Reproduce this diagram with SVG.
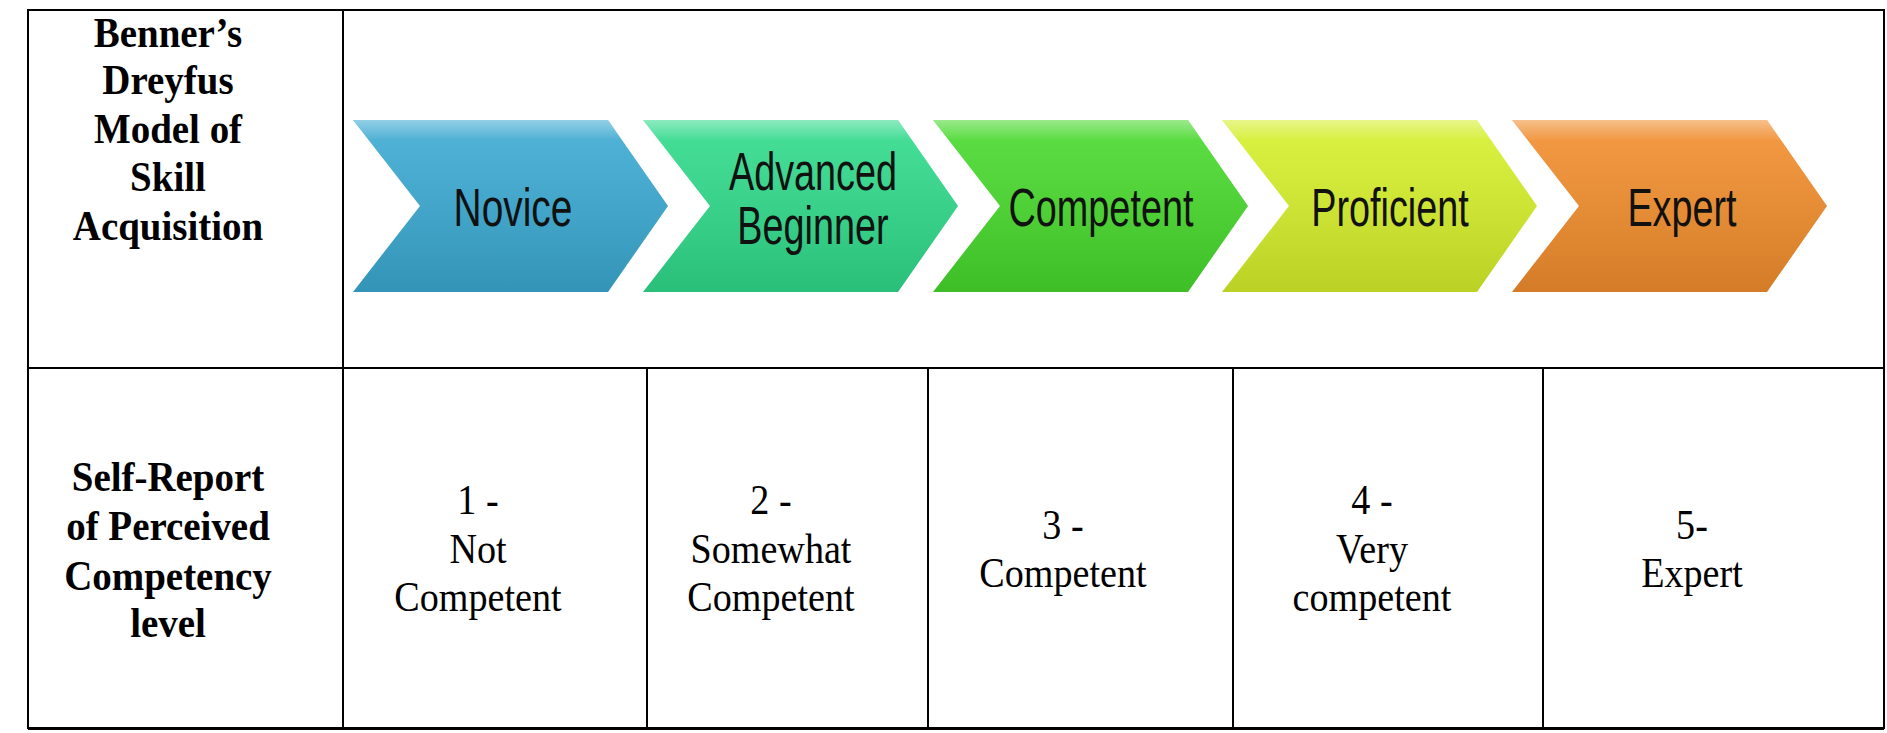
<svg xmlns="http://www.w3.org/2000/svg" width="1887" height="733" viewBox="0 0 1887 733">
<style>
.hd{font-family:"Liberation Serif",serif;font-weight:bold;font-size:41px;text-anchor:middle}
.v{font-family:"Liberation Serif",serif;font-size:41px;text-anchor:middle}
.ch{font-family:"Liberation Sans",sans-serif;font-size:54px;fill:#111;text-anchor:middle}
.ln{stroke:#000;stroke-width:2;fill:none}
</style>
<defs>
<linearGradient id="sh" x1="0" y1="0" x2="0" y2="1">
<stop offset="0" stop-color="#fff" stop-opacity="0.45"/>
<stop offset="0.12" stop-color="#fff" stop-opacity="0.1"/>
<stop offset="1" stop-color="#000" stop-opacity="0.12"/>
</linearGradient>
<path id="chev" d="M0,0 H255 L315,86 L255,172 H0 L67,86 Z"/>
</defs>
<g id="grid">
<rect class="ln" x="28" y="10" width="1856" height="718"/>
<line class="ln" x1="343" y1="10" x2="343" y2="728"/>
<line class="ln" x1="28" y1="368" x2="1884" y2="368"/>
<line class="ln" x1="647" y1="368" x2="647" y2="728"/>
<line class="ln" x1="928" y1="368" x2="928" y2="728"/>
<line class="ln" x1="1233" y1="368" x2="1233" y2="728"/>
<line class="ln" x1="1543" y1="368" x2="1543" y2="728"/>
<line class="ln" x1="28" y1="729" x2="1884" y2="729" stroke-width="3"/>
</g>
<g id="rowlabel1" transform="translate(168,0) scale(0.95,1.05) translate(-168,0)">
<text class="hd" x="168" y="45">Benner’s</text>
<text class="hd" x="168" y="90">Dreyfus</text>
<text class="hd" x="168" y="136">Model of</text>
<text class="hd" x="168" y="182">Skill</text>
<text class="hd" x="168" y="229">Acquisition</text>
</g>
<g id="rowlabel2" transform="translate(168,0) scale(0.95,1.05) translate(-168,0)">
<text class="hd" x="168" y="468">Self-Report</text>
<text class="hd" x="168" y="514">of Perceived</text>
<text class="hd" x="168" y="562">Competency</text>
<text class="hd" x="168" y="607">level</text>
</g>
<g id="novice" transform="translate(353,120)">
<use href="#chev" fill="#3aa8d0"/><use href="#chev" fill="url(#sh)"/>
<text class="ch" x="160" y="106" transform="scale(0.72,1)" transform-origin="160 86">Novice</text>
</g>
<g id="advanced" transform="translate(643,120)">
<use href="#chev" fill="#2fd98a"/><use href="#chev" fill="url(#sh)"/>
<text class="ch" x="170" y="70" font-size="50" transform="scale(0.7,1)" transform-origin="170 86">Advanced</text>
<text class="ch" x="170" y="124" font-size="50" transform="scale(0.7,1)" transform-origin="170 86">Beginner</text>
</g>
<g id="competent" transform="translate(933,120)">
<use href="#chev" fill="#47d82c"/><use href="#chev" fill="url(#sh)"/>
<text class="ch" x="168" y="106" transform="scale(0.7,1)" transform-origin="168 86">Competent</text>
</g>
<g id="proficient" transform="translate(1222,120)">
<use href="#chev" fill="#d4ee2a"/><use href="#chev" fill="url(#sh)"/>
<text class="ch" x="168" y="106" transform="scale(0.7,1)" transform-origin="168 86">Proficient</text>
</g>
<g id="expert" transform="translate(1512,120)">
<use href="#chev" fill="#f08c2c"/><use href="#chev" fill="url(#sh)"/>
<text class="ch" x="170" y="106" transform="scale(0.7,1)" transform-origin="170 86">Expert</text>
</g>
<g id="levels" transform="translate(0,563) scale(1,1.05) translate(0,-563)">
<text class="v" x="478" y="516" transform="translate(478,0) scale(0.93,1) translate(-478,0)">1 -</text>
<text class="v" x="478" y="563" transform="translate(478,0) scale(0.93,1) translate(-478,0)">Not</text>
<text class="v" x="478" y="609" transform="translate(478,0) scale(0.93,1) translate(-478,0)">Competent</text>
<text class="v" x="771" y="516" transform="translate(771,0) scale(0.93,1) translate(-771,0)">2 -</text>
<text class="v" x="771" y="563" transform="translate(771,0) scale(0.93,1) translate(-771,0)">Somewhat</text>
<text class="v" x="771" y="609" transform="translate(771,0) scale(0.93,1) translate(-771,0)">Competent</text>
<text class="v" x="1063" y="540" transform="translate(1063,0) scale(0.93,1) translate(-1063,0)">3 -</text>
<text class="v" x="1063" y="586" transform="translate(1063,0) scale(0.93,1) translate(-1063,0)">Competent</text>
<text class="v" x="1372" y="516" transform="translate(1372,0) scale(0.93,1) translate(-1372,0)">4 -</text>
<text class="v" x="1372" y="563" transform="translate(1372,0) scale(0.93,1) translate(-1372,0)">Very</text>
<text class="v" x="1372" y="609" transform="translate(1372,0) scale(0.93,1) translate(-1372,0)">competent</text>
<text class="v" x="1692" y="540" transform="translate(1692,0) scale(0.93,1) translate(-1692,0)">5-</text>
<text class="v" x="1692" y="586" transform="translate(1692,0) scale(0.93,1) translate(-1692,0)">Expert</text>
</g>
</svg>
